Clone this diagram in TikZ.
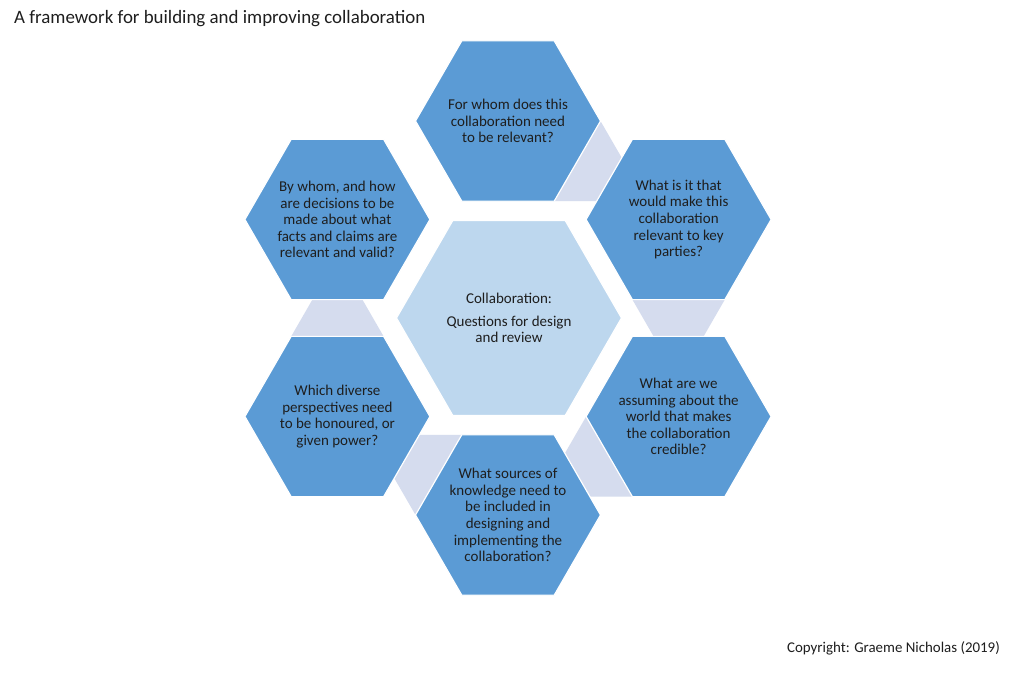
\documentclass[tikz,border=0pt]{standalone}
\usepackage{fontspec}
\setmainfont{Carlito}
\usetikzlibrary{shapes.geometric,calc}
\pgfdeclarelayer{background}
\pgfsetlayers{background,main}
\definecolor{hexblue}{HTML}{5B9BD5}
\definecolor{hexlight}{HTML}{BDD7EE}
\definecolor{connfill}{HTML}{D5DCEE}
\definecolor{txt}{HTML}{1E1E1E}
\tikzset{
  hexbox/.style={regular polygon, regular polygon sides=6, minimum size=185pt,
    inner sep=0pt, outer sep=0pt, fill=hexblue, draw=white, line width=1.2pt},
  hexcenter/.style={hexbox, minimum size=225pt, fill=hexlight},
  hextext/.style={align=center, text=txt, inner sep=0pt, font=\fontsize{15}{16.6}\selectfont},
  connshape/.style={fill=connfill},
  titletext/.style={text=txt, inner sep=0pt, font=\fontsize{18.9}{22}\selectfont},
  copytext/.style={text=txt, inner sep=0pt, font=\fontsize{14.9}{17}\selectfont}
}
\begin{document}
\begin{tikzpicture}[x=1pt,y=1pt]
\useasboundingbox (0,0) rectangle (1024,672);
\node[titletext, anchor=base west] (title) at (14,648) {A framework for building and improving collaboration};
\node[copytext, anchor=base east] (copy) at (1000,20) {Copyright: Graeme Nicholas (2019)};

\node[hexcenter] (hC) at (509,354) {};
\node[hexbox] (hT) at (508,551) {};
\node[hexbox] (hRT) at (678.6,452.5) {};
\node[hexbox] (hRB) at (678.6,255.5) {};
\node[hexbox] (hB) at (508,157) {};
\node[hexbox] (hLB) at (337.4,255.5) {};
\node[hexbox] (hLT) at (337.4,452.5) {};

\node[hextext] (tC) at (hC.center) {Collaboration:\\[6pt]Questions for design\\and review};
\node[hextext] (tT) at (hT.center) {For whom does this\\collaboration need\\to be relevant?};
\node[hextext] (tRT) at (hRT.center) {What is it that\\would make this\\collaboration\\relevant to key\\parties?};
\node[hextext] (tRB) at (hRB.center) {What are we\\assuming about the\\world that makes\\the collaboration\\credible?};
\node[hextext] (tB) at (hB.center) {What sources of\\knowledge need to\\be included in\\designing and\\implementing the\\collaboration?};
\node[hextext] (tLB) at (hLB.center) {Which diverse\\perspectives need\\to be honoured, or\\given power?};
\node[hextext] (tLT) at (hLT.center) {By whom, and how\\are decisions to be\\made about what\\facts and claims are\\relevant and valid?};

\begin{pgfonlayer}{background}
\fill[white] (0,0) rectangle (1024,672);
\foreach \na/\wb in {hLT/hLB, hLB/hB, hB/hRB, hRB/hRT, hRT/hT}{
  \coordinate (wend) at ($(\wb.center)!77pt!(\na.center)$);
  \coordinate (nend) at ($(\wb.center)!120pt!(\na.center)$);
  \fill[connshape] ($(wend)!48pt!90:(\na.center)$) -- ($(nend)!23.2pt!90:(\na.center)$)
     -- ($(nend)!23.2pt!-90:(\na.center)$) -- ($(wend)!48pt!-90:(\na.center)$) -- cycle;
}
\end{pgfonlayer}
\end{tikzpicture}
\end{document}
